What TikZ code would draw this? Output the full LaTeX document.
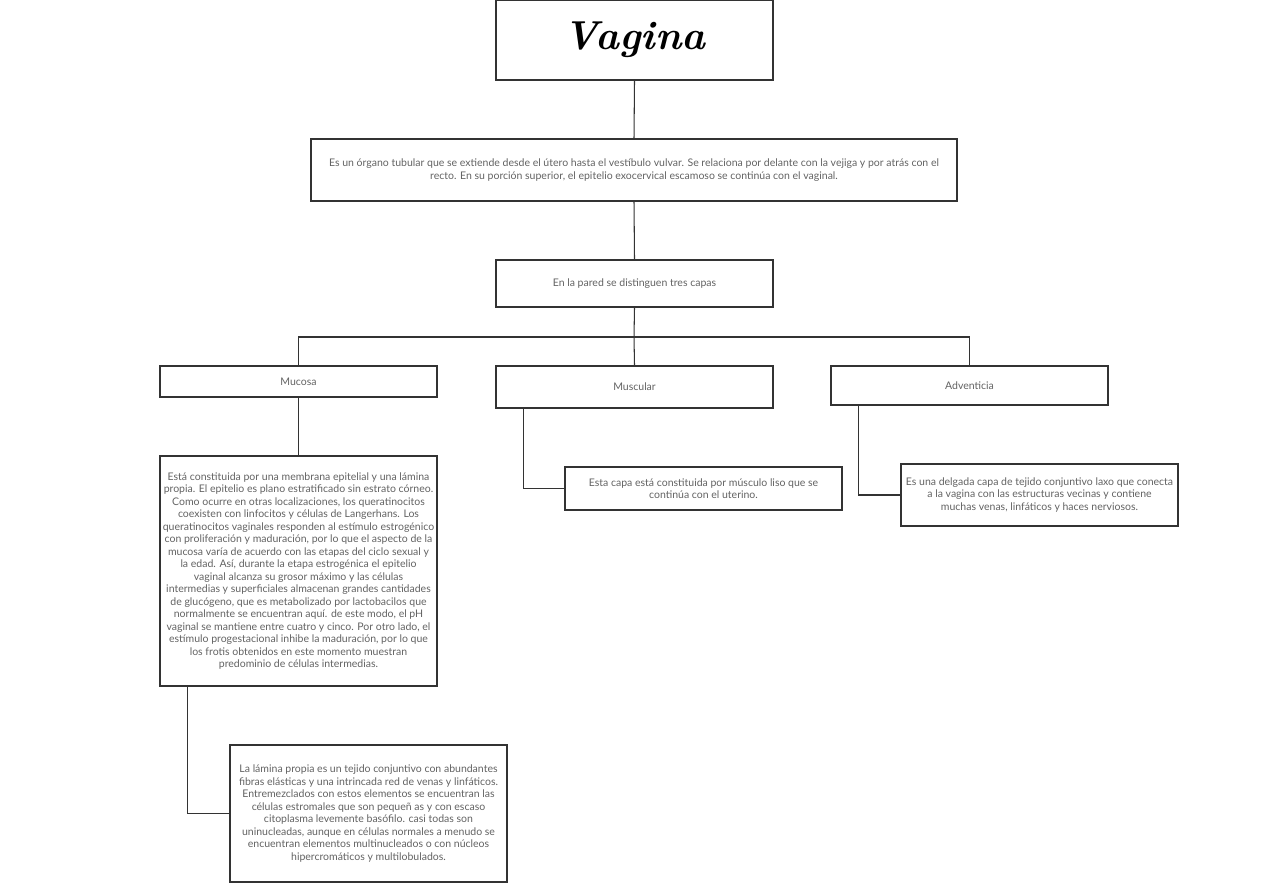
\documentclass[tikz,border=0pt]{standalone}
\usepackage{fontspec}
\setmainfont{Lato}
\usepackage{tikz}
\usetikzlibrary{positioning}
\definecolor{linegray}{HTML}{333333}
\definecolor{textgray}{HTML}{626262}
\tikzset{
    box/.style={draw=linegray, line width=0.7pt, minimum width=5.54cm, inner sep=0.5pt,
        align=center, text=textgray, font=\fontsize{5.98}{7.1}\selectfont},
    widebox/.style={box, minimum width=12.92cm},
    titlebox/.style={box, text=black, font=\fontsize{23}{26}\selectfont\fontspec{Latin Modern Roman}\bfseries\itshape},
    link/.style={draw=linegray, line width=0.6pt},
}
\begin{document}
\begin{tikzpicture}[x=0.02cm, y=-0.02cm]
	\useasboundingbox (0,0) rectangle (1280,886);
	\node[titlebox, minimum height=1.6cm] (vagina) at (634.5,40) {Vagina};
	\node[widebox, minimum height=1.24cm] (desc) at (634,170)
		{Es un órgano tubular que se extiende desde el útero hasta el vestíbulo vulvar. Se relaciona por delante con la vejiga y por atrás con el\\
		recto. En su porción superior, el epitelio exocervical escamoso se continúa con el vaginal.};
	\node[box, minimum height=0.94cm] (pared) at (634.5,283.5) {En la pared se distinguen tres capas};
	\coordinate (split) at (634,337);
	% las tres capas
	\node[box, minimum height=0.62cm] (mucosa) at (298.5,381.5) {Mucosa};
	\node[box, minimum height=0.84cm] (muscular) at (634.5,387) {Muscular};
	\node[box, minimum height=0.78cm] (adventicia) at (969.5,385.5) {Adventicia};
	\node[box, minimum height=4.6cm] (mucosatext) at (298.5,571)
		{Está constituida por una membrana epitelial y una lámina\\
		propia. El epitelio es plano estratificado sin estrato córneo.\\
		Como ocurre en otras localizaciones, los queratinocitos\\
		coexisten con linfocitos y células de Langerhans. Los\\
		queratinocitos vaginales responden al estímulo estrogénico\\
		con proliferación y maduración, por lo que el aspecto de la\\
		mucosa varía de acuerdo con las etapas del ciclo sexual y\\
		la edad. Así, durante la etapa estrogénica el epitelio\\
		vaginal alcanza su grosor máximo y las células\\
		intermedias y superficiales almacenan grandes cantidades\\
		de glucógeno, que es metabolizado por lactobacilos que\\
		normalmente se encuentran aquí. de este modo, el pH\\
		vaginal se mantiene entre cuatro y cinco. Por otro lado, el\\
		estímulo progestacional inhibe la maduración, por lo que\\
		los frotis obtenidos en este momento muestran\\
		predominio de células intermedias.};
	\node[box, minimum height=0.86cm] (musculartext) at (703.5,488.5)
		{Esta capa está constituida por músculo liso que se\\
		continúa con el uterino.};
	\node[box, minimum height=1.24cm] (adventiciatext) at (1039.5,495)
		{Es una delgada capa de tejido conjuntivo laxo que conecta\\
		a la vagina con las estructuras vecinas y contiene\\
		muchas venas, linfáticos y haces nerviosos.};
	\node[box, minimum height=2.74cm] (lamina) at (368.5,813.5)
		{La lámina propia es un tejido conjuntivo con abundantes\\
		fibras elásticas y una intrincada red de venas y linfáticos.\\
		Entremezclados con estos elementos se encuentran las\\
		células estromales que son pequeñ as y con escaso\\
		citoplasma levemente basófilo. casi todas son\\
		uninucleadas, aunque en células normales a menudo se\\
		encuentran elementos multinucleados o con núcleos\\
		hipercromáticos y multilobulados.};
	% conectores
	\draw[link] (vagina.south) -- (desc.north);
	\draw[link] (desc.south) -- (pared.north);
	\draw[link] (pared.south) -- (split);
	\draw[link] (mucosa.north) |- (split) -| (adventicia.north);
	\draw[link] (split) -- (muscular.north);
	\draw[link] (mucosa.south) -- (mucosatext.north);
	\draw[link] ([xshift=0.56cm]muscular.south west) |- (musculartext.west);
	\draw[link] ([xshift=0.56cm]adventicia.south west) |- (adventiciatext.west);
	\draw[link] ([xshift=0.56cm]mucosatext.south west) |- (lamina.west);
\end{tikzpicture}
\end{document}
